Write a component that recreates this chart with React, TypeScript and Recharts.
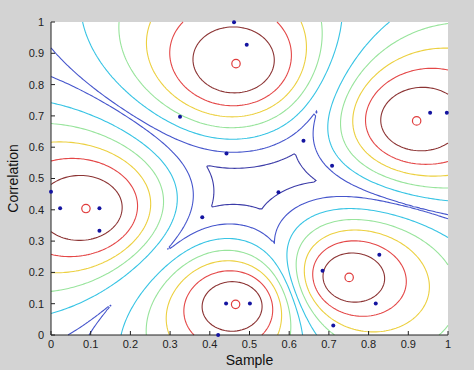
import React from 'react';
import { ComposedChart, XAxis, YAxis, Line, Scatter, Label } from 'recharts';

// Cluster centres (red circles)
const centerX = [0.088, 0.466, 0.921, 0.751, 0.465];
const centerY = [0.404, 0.867, 0.684, 0.184, 0.098];

// Samples (blue dots)
const sampleX = [0.461, 0.493, 0.325, 0.442, 0.636, 0.708, 0.573, 0.381, 0.023, 0.122, 0.122, 0.0, 0.955, 0.997, 0.827, 0.684, 0.818, 0.711, 0.441, 0.501, 0.421];
const sampleY = [0.999, 0.927, 0.697, 0.58, 0.621, 0.541, 0.456, 0.376, 0.405, 0.405, 0.333, 0.458, 0.71, 0.71, 0.256, 0.205, 0.101, 0.03, 0.101, 0.101, 0.0];

// Contour levels of the maximum fuzzy membership and their colours
const contourLevels = [0.3, 0.4, 0.5, 0.6, 0.7, 0.8, 0.9];
const levelColors = ['#3c3ca8', '#4656cc', '#38c4e4', '#98e49c', '#ecd040', '#e44848', '#8c3434'];
const fuzziness = 2;

const tickValues = [0, 0.1, 0.2, 0.3, 0.4, 0.5, 0.6, 0.7, 0.8, 0.9, 1];
const xLabel = 'Sample';
const yLabel = 'Correlation';

type Pt = { x: number; y: number };

const GRID = 160;

function computeField(n: number): number[][] {
  const vals: number[][] = [];
  for (let j = 0; j <= n; j++) {
    const row: number[] = [];
    const y = j / n;
    for (let i = 0; i <= n; i++) {
      const x = i / n;
      let sum = 0;
      let best = 0;
      for (let k = 0; k < centerX.length; k++) {
        const d2 = (x - centerX[k]) ** 2 + (y - centerY[k]) ** 2 + 1e-12;
        const w = Math.pow(d2, -1 / (fuzziness - 1));
        sum += w;
        if (w > best) best = w;
      }
      row.push(best / sum);
    }
    vals.push(row);
  }
  return vals;
}

function traceLevel(f: number[][], n: number, level: number): Pt[][] {
  const pts = new Map<string, Pt>();
  const adj = new Map<string, string[]>();
  const ep = (key: string, ax: number, ay: number, av: number, bx: number, by: number, bv: number) => {
    if (!pts.has(key)) {
      const t = (level - av) / (bv - av);
      pts.set(key, { x: (ax + t * (bx - ax)) / n, y: (ay + t * (by - ay)) / n });
    }
    return key;
  };
  const link = (a: string, b: string) => {
    if (!adj.has(a)) adj.set(a, []);
    if (!adj.has(b)) adj.set(b, []);
    adj.get(a)!.push(b);
    adj.get(b)!.push(a);
  };
  for (let j = 0; j < n; j++) {
    for (let i = 0; i < n; i++) {
      const v00 = f[j][i], v10 = f[j][i + 1], v11 = f[j + 1][i + 1], v01 = f[j + 1][i];
      const b00 = v00 >= level, b10 = v10 >= level, b11 = v11 >= level, b01 = v01 >= level;
      const e0 = b00 !== b10 ? ep(`h${i},${j}`, i, j, v00, i + 1, j, v10) : null;
      const e1 = b10 !== b11 ? ep(`v${i + 1},${j}`, i + 1, j, v10, i + 1, j + 1, v11) : null;
      const e2 = b01 !== b11 ? ep(`h${i},${j + 1}`, i, j + 1, v01, i + 1, j + 1, v11) : null;
      const e3 = b00 !== b01 ? ep(`v${i},${j}`, i, j, v00, i, j + 1, v01) : null;
      const crossed = [e0, e1, e2, e3].filter((e) => e !== null) as string[];
      if (crossed.length === 2) link(crossed[0], crossed[1]);
      else if (crossed.length === 4) {
        const c = (v00 + v10 + v11 + v01) / 4 >= level;
        if (c === b00) {
          link(e0!, e1!);
          link(e2!, e3!);
        } else {
          link(e3!, e0!);
          link(e1!, e2!);
        }
      }
    }
  }
  const used = new Set<string>();
  const lines: Pt[][] = [];
  const walk = (start: string) => {
    const path = [start];
    used.add(start);
    let cur = start;
    for (;;) {
      const nb = adj.get(cur)!.find((k) => !used.has(k));
      if (!nb) {
        if (path.length > 2 && adj.get(cur)!.includes(start)) path.push(start);
        break;
      }
      used.add(nb);
      path.push(nb);
      cur = nb;
    }
    lines.push(path.map((k) => pts.get(k)!));
  };
  for (const [k, nb] of adj) if (nb.length === 1 && !used.has(k)) walk(k);
  for (const k of adj.keys()) if (!used.has(k)) walk(k);
  return lines;
}

const field = computeField(GRID);
const contours = contourLevels.map((lv, li) => ({
  color: levelColors[li],
  lines: traceLevel(field, GRID, lv),
}));

const samples = sampleX.map((x, i) => ({ x, y: sampleY[i] }));
const centers = centerX.map((x, i) => ({ x, y: centerY[i] }));

const FONT = 'Arial, "Liberation Sans", Helvetica, sans-serif';
const fmt = (v: number) => String(Number(v.toFixed(1)));

const SampleDot = (p: any) => <circle cx={p.cx} cy={p.cy} r={2} fill="#1414a0" />;
const CenterDot = (p: any) => (
  <circle cx={p.cx} cy={p.cy} r={4.2} fill="none" stroke="#e03c3c" strokeWidth={1.2} />
);

export default function App() {
  return (
    <div style={{ position: 'absolute', left: 0, top: 0, width: 474, height: 370, background: '#d3d3d3' }}>
      <ComposedChart width={474} height={370} margin={{ top: 22, right: 26, bottom: 0, left: 0 }}>
        <rect x={51} y={22} width={397} height={313} fill="#ffffff" />
        <XAxis
          xAxisId="b"
          dataKey="x"
          type="number"
          domain={[0, 1]}
          ticks={tickValues}
          tickFormatter={fmt}
          height={35}
          tickSize={-4}
          tickMargin={9}
          interval={0}
          stroke="#222"
          tick={{ fill: '#222', fontSize: 11, fontFamily: FONT }}
        >
          <Label
            content={(p: any) => {
              const vb = p.viewBox || { x: 51, width: 397 };
              return (
                <text x={vb.x + vb.width / 2} y={365} textAnchor="middle" fontSize={14} fontFamily={FONT} fill="#111">
                  {xLabel}
                </text>
              );
            }}
          />
        </XAxis>
        <XAxis
          xAxisId="t"
          orientation="top"
          dataKey="x"
          type="number"
          domain={[0, 1]}
          ticks={tickValues}
          height={0}
          mirror
          tickSize={4}
          tick={false}
          interval={0}
          stroke="#222"
        />
        <YAxis
          yAxisId="l"
          dataKey="y"
          type="number"
          domain={[0, 1]}
          ticks={tickValues}
          tickFormatter={fmt}
          width={51}
          tickSize={-4}
          tickMargin={11}
          interval={0}
          stroke="#222"
          tick={{ fill: '#222', fontSize: 11, fontFamily: FONT }}
        >
          <Label
            content={(p: any) => {
              const cy = 178.5;
              const cx = 13;
              return (
                <text
                  x={cx}
                  y={cy}
                  transform={`rotate(-90, ${cx}, ${cy})`}
                  textAnchor="middle"
                  dominantBaseline="central"
                  fontSize={14}
                  fontFamily={FONT}
                  fill="#111"
                >
                  {yLabel}
                </text>
              );
            }}
          />
        </YAxis>
        <YAxis
          yAxisId="r"
          orientation="right"
          dataKey="y"
          type="number"
          domain={[0, 1]}
          ticks={tickValues}
          width={0}
          mirror
          tickSize={4}
          tick={false}
          interval={0}
          stroke="#222"
        />
        {contours.map((c, li) =>
          c.lines.map((pts, k) => (
            <Line
              key={`c${li}-${k}`}
              xAxisId="b"
              yAxisId="l"
              data={pts}
              dataKey="y"
              type="linear"
              stroke={c.color}
              strokeWidth={1.1}
              dot={false}
              activeDot={false}
              isAnimationActive={false}
            />
          ))
        )}
        <Scatter xAxisId="b" yAxisId="l" data={samples} dataKey="y" shape={SampleDot} isAnimationActive={false} />
        <Scatter xAxisId="b" yAxisId="l" data={centers} dataKey="y" shape={CenterDot} isAnimationActive={false} />
      </ComposedChart>
    </div>
  );
}
